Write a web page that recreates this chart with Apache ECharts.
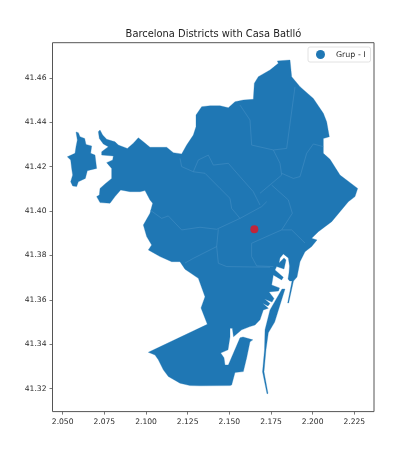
<!DOCTYPE html>
<html><head><meta charset="utf-8">
<style>html,body{margin:0;padding:0;background:#fff}#c{width:410px;height:451px}</style>
<script src="https://cdn.jsdelivr.net/npm/echarts@6/dist/echarts.min.js"></script></head>
<body><div id="c"></div>
<script>
const chartTitle = 'Barcelona Districts with Casa Batlló';
const legendName = 'Grup - I';
const xTicks = [2.05,2.075,2.1,2.125,2.15,2.175,2.2,2.225];
const yTicks = [41.32,41.34,41.36,41.38,41.40,41.42,41.44,41.46];
const casaBatllo = [2.1650,41.3918];
const islandOutline = [[2.0580,41.4356],[2.0594,41.4353],[2.0604,41.4335],[2.0632,41.4327],[2.0640,41.4300],[2.0674,41.4293],[2.0668,41.4260],[2.0694,41.4252],[2.0704,41.4192],[2.0648,41.4182],[2.0636,41.4147],[2.0594,41.4132],[2.0584,41.4110],[2.0560,41.4113],[2.0548,41.4132],[2.0560,41.4162],[2.0554,41.4192],[2.0548,41.4230],[2.0528,41.4244],[2.0574,41.4260],[2.0580,41.4290],[2.0588,41.4320]];
const landOutline = [[2.0724,41.4365],[2.0714,41.4357],[2.0720,41.4327],[2.0744,41.4302],[2.0774,41.4290],[2.0734,41.4267],[2.0734,41.4252],[2.0804,41.4248],[2.0800,41.4230],[2.0764,41.4218],[2.0794,41.4192],[2.0794,41.4147],[2.0754,41.4122],[2.0724,41.4102],[2.0720,41.4072],[2.0704,41.4065],[2.0724,41.4038],[2.0784,41.4035],[2.0814,41.4065],[2.0848,41.4095],[2.0904,41.4087],[2.0964,41.4087],[2.0994,41.4092],[2.1024,41.4050],[2.1040,41.4035],[2.1024,41.3990],[2.0984,41.3937],[2.1004,41.3885],[2.1034,41.3847],[2.1014,41.3825],[2.1084,41.3795],[2.1154,41.3772],[2.1204,41.3772],[2.1234,41.3738],[2.1314,41.3697],[2.1354,41.3614],[2.1330,41.3564],[2.1368,41.3490],[2.1014,41.3364],[2.1054,41.3352],[2.1074,41.3330],[2.1104,41.3285],[2.1134,41.3255],[2.1204,41.3225],[2.1264,41.3214],[2.1324,41.3213],[2.1504,41.3214],[2.1514,41.3217],[2.1534,41.3273],[2.1584,41.3277],[2.1604,41.3339],[2.1624,41.3411],[2.1641,41.3420],[2.1582,41.3433],[2.1564,41.3429],[2.1494,41.3307],[2.1474,41.3307],[2.1468,41.3339],[2.1448,41.3361],[2.1492,41.3375],[2.1504,41.3433],[2.1504,41.3472],[2.1518,41.3472],[2.1525,41.3434],[2.1574,41.3465],[2.1624,41.3480],[2.1654,41.3487],[2.1684,41.3510],[2.1704,41.3555],[2.1734,41.3562],[2.1700,41.3585],[2.1732,41.3573],[2.1744,41.3584],[2.1711,41.3604],[2.1756,41.3590],[2.1768,41.3606],[2.1738,41.3636],[2.1795,41.3640],[2.1801,41.3654],[2.1754,41.3667],[2.1764,41.3712],[2.1814,41.3690],[2.1824,41.3702],[2.1774,41.3735],[2.1784,41.3750],[2.1828,41.3739],[2.1840,41.3780],[2.1828,41.3789],[2.1798,41.3766],[2.1804,41.3789],[2.1824,41.3807],[2.1854,41.3789],[2.1861,41.3753],[2.1858,41.3722],[2.1852,41.3694],[2.1862,41.3685],[2.1876,41.3685],[2.1850,41.3586],[2.1856,41.3586],[2.1885,41.3685],[2.1906,41.3703],[2.1924,41.3772],[2.1954,41.3817],[2.1994,41.3840],[2.2026,41.3870],[2.1994,41.3877],[2.2034,41.3907],[2.2064,41.3924],[2.2114,41.3952],[2.2164,41.3997],[2.2214,41.4042],[2.2254,41.4065],[2.2270,41.4102],[2.2164,41.4162],[2.2104,41.4233],[2.2064,41.4260],[2.2064,41.4327],[2.2100,41.4334],[2.2084,41.4402],[2.2064,41.4440],[2.2004,41.4507],[2.1924,41.4560],[2.1874,41.4605],[2.1864,41.4680],[2.1788,41.4676],[2.1794,41.4665],[2.1744,41.4635],[2.1674,41.4605],[2.1650,41.4575],[2.1644,41.4503],[2.1584,41.4500],[2.1534,41.4492],[2.1494,41.4465],[2.1444,41.4474],[2.1384,41.4474],[2.1334,41.4470],[2.1300,41.4432],[2.1300,41.4380],[2.1284,41.4342],[2.1244,41.4297],[2.1214,41.4257],[2.1164,41.4263],[2.1124,41.4287],[2.1024,41.4287],[2.0984,41.4312],[2.0954,41.4330],[2.0924,41.4305],[2.0888,41.4282],[2.0834,41.4297],[2.0814,41.4312],[2.0764,41.4323],[2.0740,41.4342]];
const breakwaterOutline = [[2.1816,41.3649],[2.1834,41.3649],[2.1772,41.3500],[2.1734,41.3452],[2.1720,41.3375],[2.1708,41.3276],[2.1732,41.3179],[2.1726,41.3177],[2.1699,41.3276],[2.1711,41.3375],[2.1714,41.3465],[2.1744,41.3555]];
const districtLines = [
 [[2.1024,41.4005],[2.1094,41.3967],[2.1134,41.3978],[2.1214,41.3915],[2.1324,41.3927],[2.1424,41.3918],[2.1564,41.3967],[2.1694,41.4020],[2.1724,41.4042]],
 [[2.1434,41.3918],[2.1424,41.3840],[2.1284,41.3787],[2.1234,41.3766]],
 [[2.1424,41.3840],[2.1434,41.3765],[2.1484,41.3750],[2.1744,41.3747]],
 [[2.1204,41.4237],[2.1214,41.4200],[2.1284,41.4177],[2.1314,41.4230],[2.1374,41.4252]],
 [[2.1284,41.4177],[2.1354,41.4170],[2.1444,41.4102],[2.1504,41.4057],[2.1514,41.4012],[2.1564,41.3967]],
 [[2.1374,41.4252],[2.1404,41.4207],[2.1494,41.4215],[2.1564,41.4155],[2.1644,41.4087],[2.1684,41.4027]],
 [[2.1764,41.4275],[2.1804,41.4215],[2.1814,41.4162],[2.1684,41.4080]],
 [[2.1754,41.4117],[2.1854,41.4050],[2.1878,41.3990],[2.1814,41.3915],[2.1744,41.3892],[2.1634,41.3855],[2.1634,41.3795],[2.1664,41.3753],[2.1764,41.3750]],
 [[2.1814,41.3915],[2.1874,41.3915],[2.1954,41.3856]],
 [[2.1564,41.4477],[2.1624,41.4410],[2.1634,41.4297],[2.1764,41.4275],[2.1844,41.4282],[2.1894,41.4559]],
 [[2.1814,41.4170],[2.1884,41.4147],[2.1924,41.4155],[2.1964,41.4260],[2.2004,41.4302],[2.2064,41.4290]]
];
const outlines = [landOutline, islandOutline, breakwaterOutline];

function fontStyle(size){ return {fontFamily:'DejaVu Sans', fontSize:size, color:'#2a2a2a'}; }
const chart = echarts.init(document.getElementById('c'), null, {renderer:'canvas'});
chart.setOption({
  animation:false,
  backgroundColor:'#fff',
  title:{text:chartTitle,left:208.5,top:24,textAlign:'center',textStyle:{fontFamily:'DejaVu Sans',fontSize:9.9,fontWeight:'normal',color:'#222'}},
  legend:{data:[{name:legendName,icon:'circle',itemStyle:{color:'#1f77b4'}}],left:308,top:47,itemWidth:9,itemHeight:9,itemGap:0,padding:[3,5,3,8],
    borderColor:'#e2e2e2',borderWidth:1,borderRadius:2,backgroundColor:'#fff',textStyle:Object.assign(fontStyle(7.9),{padding:[0,0,0,6]}),selectedMode:false},
  grid:{show:true,left:52.5,right:36,top:42.7,bottom:39.4,borderColor:'#555',borderWidth:1,backgroundColor:'transparent',containLabel:false},
  xAxis:{type:'value',min:2.0439,max:2.2368,splitLine:{show:false},axisLine:{show:false},
    axisTick:{show:true,length:3,customValues:xTicks,lineStyle:{color:'#555',width:0.8}},
    axisLabel:{customValues:xTicks,margin:6,formatter:v=>(+v).toFixed(3),showMinLabel:true,showMaxLabel:true,...fontStyle(7.6)}},
  yAxis:{type:'value',min:41.3097,max:41.4758,splitLine:{show:false},axisLine:{show:false},
    axisTick:{show:true,length:3,customValues:yTicks,lineStyle:{color:'#555',width:0.8}},
    axisLabel:{customValues:yTicks,margin:6,formatter:v=>(+v).toFixed(2),...fontStyle(7.6)}},
  series:[
    {name:legendName,type:'custom',silent:true,coordinateSystem:'cartesian2d',clip:true,z:2,
     data:outlines.map(o=>o[0]),
     renderItem:(p,api)=>({type:'polygon',shape:{points:outlines[p.dataIndex].map(c=>api.coord(c))},style:{fill:'#1f77b4',stroke:'#1f77b4',lineWidth:0.3}})},
    {name:'districts',type:'custom',silent:true,coordinateSystem:'cartesian2d',z:3,
     data:districtLines.map(l=>l[0]),
     renderItem:(p,api)=>({type:'polyline',shape:{points:districtLines[p.dataIndex].map(c=>api.coord(c))},style:{fill:null,stroke:'#4a92c6',lineWidth:0.5}})},
    {name:'Casa Batlló',type:'scatter',silent:true,data:[casaBatllo],symbolSize:8,itemStyle:{color:'#e8101c'},z:4}
  ]
});
</script></body></html>
